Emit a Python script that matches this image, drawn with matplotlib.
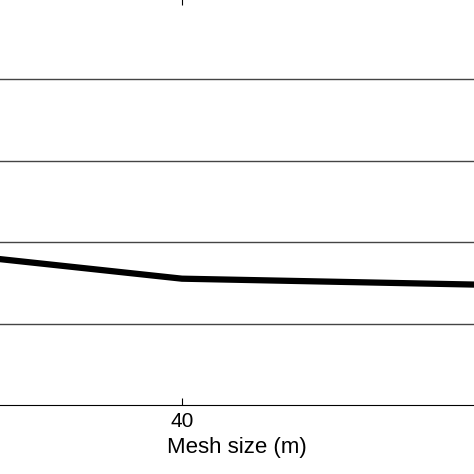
import matplotlib
matplotlib.use("Agg")
import matplotlib.pyplot as plt

mesh = [20, 40, 80]
values = [1.79, 1.55, 1.46]
xticks = [40]
xticklabels = ["40"]

fig = plt.figure(figsize=(4.74, 4.74), dpi=100)
ax = fig.add_axes([0, 69/474, 1, 407.5/474])
ax.plot(mesh, values, color="black", lw=4.5)
ax.set_xlim(20, 72.1)
ax.set_ylim(0, 5)
ax.set_yticks([1, 2, 3, 4])
ax.yaxis.grid(True, color="#444444", lw=1)
ax.tick_params(axis="y", length=0, labelleft=False)
ax.set_xticks(xticks)
ax.set_xticklabels(xticklabels, fontsize=15, family="Liberation Sans")
ax.tick_params(axis="x", direction="in", length=5, top=True, pad=5)
for s in ["left", "right", "top"]:
    ax.spines[s].set_visible(False)
ax.set_xlabel("Mesh size (m)", fontsize=16, family="Liberation Sans", labelpad=4)
fig.savefig("out.png", dpi=100)
